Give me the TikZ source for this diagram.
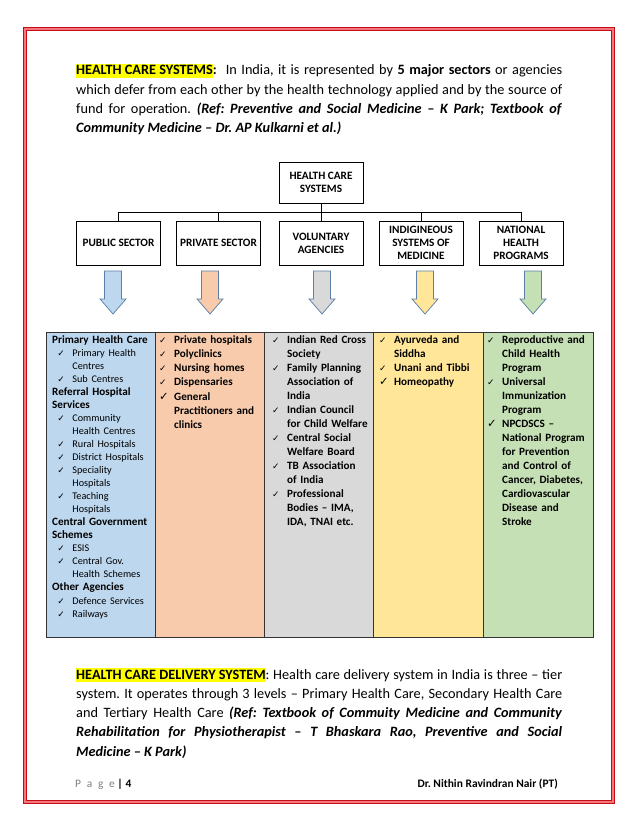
\documentclass[tikz,border=0pt]{standalone}
\usepackage{fontspec}
\setmainfont{Carlito}
\newfontfamily\symfont{DejaVu Sans}
\usepackage{xcolor}
\definecolor{hiyellow}{RGB}{255,255,0}
\definecolor{borderred}{RGB}{200,10,20}
\definecolor{borderpink}{RGB}{240,120,125}
\definecolor{cellblue}{HTML}{BDD7EE}
\definecolor{cellorange}{HTML}{F8CBAD}
\definecolor{cellgray}{HTML}{D9D9D9}
\definecolor{cellyellow}{HTML}{FFE699}
\definecolor{cellgreen}{HTML}{C5E0B4}
\definecolor{arrowedge}{HTML}{5B7FA6}
\definecolor{footgray}{HTML}{7F7F7F}
\usepackage{tikz}
\usetikzlibrary{positioning}
\frenchspacing

\newcommand{\hilite}[1]{{\setlength{\fboxsep}{0pt}\colorbox{hiyellow}{\rule[-3.3pt]{0pt}{13.6pt}#1}}}
\newcommand{\chk}{\makebox[14.4pt][l]{\symfont\fontsize{8.5}{9}\selectfont ✓}}
\newcommand{\bigchk}{\makebox[14.4pt][l]{\symfont\fontsize{11}{9}\selectfont ✓}}
\newcommand{\ind}{\hspace*{14.4pt}}
\newcommand{\subline}[1]{{\fontsize{9.8}{12}\mdseries\selectfont\hspace*{5pt}#1}}

\begin{document}
\begin{tikzpicture}[x=0.96pt, y=-0.96pt,
    secbox/.style={draw, line width=0.9pt, minimum width=80.6pt, minimum height=42.2pt, inner sep=0pt, align=center, font=\fontsize{10.8}{12.6}\selectfont\bfseries},
    para/.style={anchor=base west, inner sep=0pt, text width=466.6pt, align=justify, font=\fontsize{13.7}{18.5}\selectfont},
    colcell/.style={draw=black!80, line width=0.8pt},
    coltext/.style={anchor=base west, inner sep=0pt, text width=100pt, align=left, font=\fontsize{10.7}{13.44}\selectfont\bfseries},
    blockarrow/.style={draw=arrowedge, line width=0.7pt}
  ]
  \useasboundingbox (0,0) rectangle (638,826);
  % page frame
  \draw[draw=borderred, double=borderpink, line width=1.1pt, double distance=1pt] (25,29) rectangle (613,802);

  % opening paragraph
  \node[para] (intro) at (76,75) {\hilite{\textbf{HEALTH CARE SYSTEMS}}\textbf{:}\ \ In India, it is represented by \textbf{5 major sectors} or agencies\linebreak which defer from each other by the health technology applied and by the source of\linebreak fund for operation. \textbf{\textit{(Ref: Preventive and Social Medicine – K Park; Textbook of}}\linebreak \textbf{\textit{Community Medicine – Dr. AP Kulkarni et al.)}}};

  % chart boxes
  \node[secbox, minimum height=39.4pt] (hcs) at (321,182.5) {HEALTH CARE\\SYSTEMS};
  \node[secbox] (pub) at (118.5,243) {PUBLIC SECTOR};
  \node[secbox] (pvt) at (218.5,243) {PRIVATE SECTOR};
  \node[secbox] (vol) at (321,243) {VOLUNTARY\\AGENCIES};
  \node[secbox] (ism) at (421,243) {INDIGINEOUS\\SYSTEMS OF\\MEDICINE};
  \node[secbox] (nhp) at (521,243) {NATIONAL\\HEALTH\\PROGRAMS};

  \draw[line width=0.9pt] (hcs.south) -- ++(0,9) coordinate (bus);
  \draw[line width=0.9pt] (pub.north) |- (bus) -| (nhp.north);
  \foreach \n in {pvt,vol,ism}
    \draw[line width=0.9pt] (\n.north) -- (\n.north |- bus);

  % block arrows
  \foreach \x/\c in {113/cellblue,210/cellorange,322/cellgray,425/cellyellow,533/cellgreen}
    \draw[blockarrow, fill=\c] (\x-8.5,271) -- (\x+8.5,271) -- (\x+8.5,299) -- (\x+13,299) -- (\x,314) -- (\x-13,299) -- (\x-8.5,299) -- cycle;

  % table of sectors
  \foreach \a/\b/\c in {46/155/cellblue,155/264/cellorange,264/373/cellgray,373/483/cellyellow,483/593/cellgreen}
    \draw[colcell, fill=\c] (\a,332) rectangle (\b,637);

  \node[coltext, font=\fontsize{10.7}{12.53}\selectfont\bfseries] (pubtext) at (52,343) {Primary Health Care\\
    \subline{\chk Primary Health}\\ \subline{\ind Centres}\\ \subline{\chk Sub Centres}\\
    Referral Hospital\\ Services\\
    \subline{\chk Community}\\ \subline{\ind Health Centres}\\ \subline{\chk Rural Hospitals}\\
    \subline{\chk District Hospitals}\\ \subline{\chk Speciality}\\ \subline{\ind Hospitals}\\
    \subline{\chk Teaching}\\ \subline{\ind Hospitals}\\
    Central Government\\ Schemes\\
    \subline{\chk ESIS}\\ \subline{\chk Central Gov.}\\ \subline{\ind Health Schemes}\\
    Other Agencies\\
    \subline{\chk Defence Services}\\ \subline{\chk Railways}};
  \node[coltext] (pvttext) at (159,343) {\chk Private hospitals\\ \chk Polyclinics\\ \chk Nursing homes\\ \chk Dispensaries\\[1.9pt]
    \bigchk General\\ \ind Practitioners and\\ \ind clinics};
  \node[coltext] (voltext) at (272,343) {\chk Indian Red Cross\\ \ind Society\\ \chk Family Planning\\ \ind Association of\\ \ind India\\
    \chk Indian Council\\ \ind for Child Welfare\\ \chk Central Social\\ \ind Welfare Board\\ \chk TB Association\\ \ind of India\\
    \chk Professional\\ \ind Bodies – IMA,\\ \ind IDA, TNAI etc.};
  \node[coltext] (ismtext) at (379,343) {\chk Ayurveda and\\ \ind Siddha\\ \chk Unani and Tibbi\\ \bigchk Homeopathy};
  \node[coltext] (nhptext) at (487,343) {\chk Reproductive and\\ \ind Child Health\\ \ind Program\\ \chk Universal\\ \ind Immunization\\ \ind Program\\
    \bigchk NPCDSCS –\\ \ind National Program\\ \ind for Prevention\\ \ind and Control of\\ \ind Cancer, Diabetes,\\ \ind Cardiovascular\\
    \ind Disease and\\ \ind Stroke};

  % closing paragraph
  \node[para] (delivery) at (76,679) {\hilite{\textbf{HEALTH CARE DELIVERY SYSTEM}}: Health care delivery system in India is three – tier\linebreak system. It operates through 3 levels – Primary Health Care, Secondary Health Care\linebreak and Tertiary Health Care \textbf{\textit{(Ref: Textbook of Commuity Medicine and Community}}\linebreak \textbf{\textit{Rehabilitation for Physiotherapist – T Bhaskara Rao, Preventive and Social}}\linebreak \textbf{\textit{Medicine – K Park)}}};

  % footer
  \node[anchor=base west, inner sep=0pt, font=\fontsize{11}{13}\selectfont] (pageno) at (75,787) {\textcolor{footgray}{P\,\,\,a\,\,\,g\,\,\,e} \textbf{| 4}};
  \node[anchor=base east, inner sep=0pt, font=\fontsize{11}{13}\selectfont\bfseries] (author) at (558,787) {Dr. Nithin Ravindran Nair (PT)};
\end{tikzpicture}
\end{document}
